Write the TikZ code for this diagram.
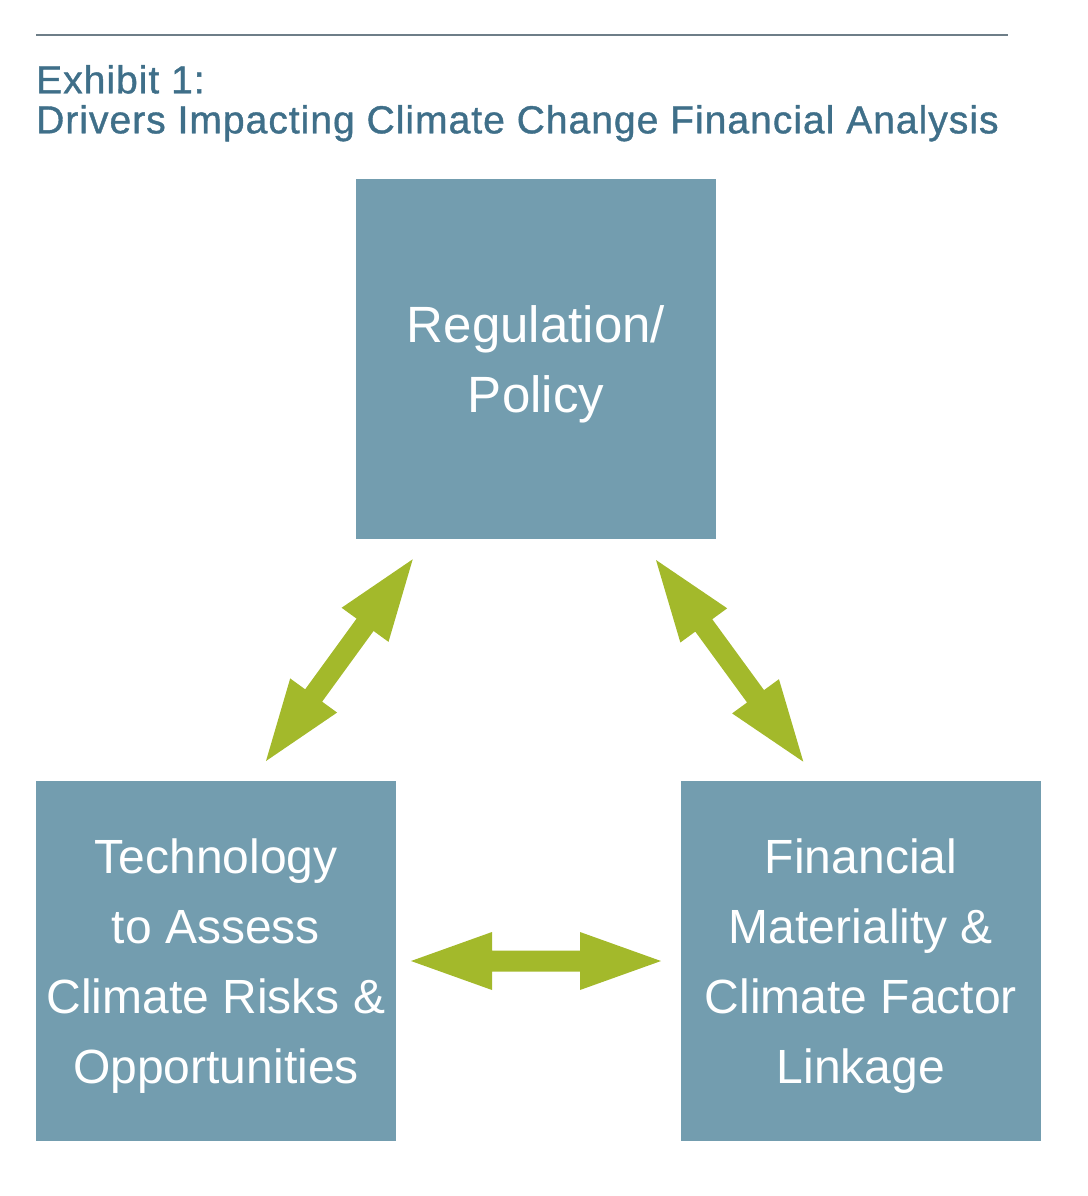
\documentclass[tikz,border=0pt]{standalone}
\usepackage{fontspec}
\setmainfont{Liberation Sans}
\newfontfamily\titlefont[LetterSpace=2.6,FakeBold=1]{Liberation Sans}
\usetikzlibrary{calc}
\definecolor{boxblue}{HTML}{739DAF}
\definecolor{titleblue}{HTML}{3F6F89}
\definecolor{arrowgreen}{HTML}{A3B92B}
\definecolor{rulegray}{HTML}{6E7E88}
\newcommand\blockarrow[2]{%
  \fill[arrowgreen] (#1)
   -- ($(#1)!81pt!(#2)!29pt!90:(#2)$)
   -- ($(#1)!81pt!(#2)!10.5pt!90:(#2)$)
   -- ($(#2)!81pt!(#1)!10.5pt!-90:(#1)$)
   -- ($(#2)!81pt!(#1)!29pt!-90:(#1)$)
   -- (#2)
   -- ($(#2)!81pt!(#1)!29pt!90:(#1)$)
   -- ($(#2)!81pt!(#1)!10.5pt!90:(#1)$)
   -- ($(#1)!81pt!(#2)!10.5pt!-90:(#2)$)
   -- ($(#1)!81pt!(#2)!29pt!-90:(#2)$)
   -- cycle;}
\tikzset{
  driverbox/.style={rectangle, fill=boxblue, minimum width=360pt, minimum height=360pt,
    inner sep=0pt},
  boxtext/.style={inner sep=0pt, text=white, align=center, font=\fontsize{48}{70}\selectfont},
  titletext/.style={anchor=base west, inner sep=0pt, text=titleblue,
    font=\titlefont\fontsize{39}{40}\selectfont}
}
\begin{document}
\begin{tikzpicture}[x=1pt, y=-1pt]
\useasboundingbox (0,0) rectangle (1087,1196);
\draw[rulegray, line width=1.5pt] (36,35) -- (1008,35);
\node[titletext] (t1) at (36,93.3) {Exhibit 1:};
\node[titletext] (t2) at (36,133.3) {Drivers Impacting Climate Change Financial Analysis};

\node[driverbox] (reg) at (536,358.5) {};
\node[driverbox] (tech) at (216,960.5) {};
\node[driverbox] (fin) at (861,960.5) {};
\node[boxtext, anchor=base, font=\fontsize{51}{70}\selectfont] (regtext) at (536,412) {Regulation/\\Policy};
\node[boxtext, anchor=base] (techtext) at (216,1083) {Technology\\to Assess\\Climate Risks \&\\Opportunities};
\node[boxtext, anchor=base] (fintext) at (861,1083) {Financial\\Materiality \&\\Climate Factor\\Linkage};

\coordinate (a1) at (412.7,559.3);
\coordinate (a2) at (266,761);
\coordinate (b1) at (656,560);
\coordinate (b2) at (803.3,761.7);
\coordinate (c1) at (411,961);
\coordinate (c2) at (661,961);
\blockarrow{a1}{a2}
\blockarrow{b1}{b2}
\blockarrow{c1}{c2}
\end{tikzpicture}
\end{document}
